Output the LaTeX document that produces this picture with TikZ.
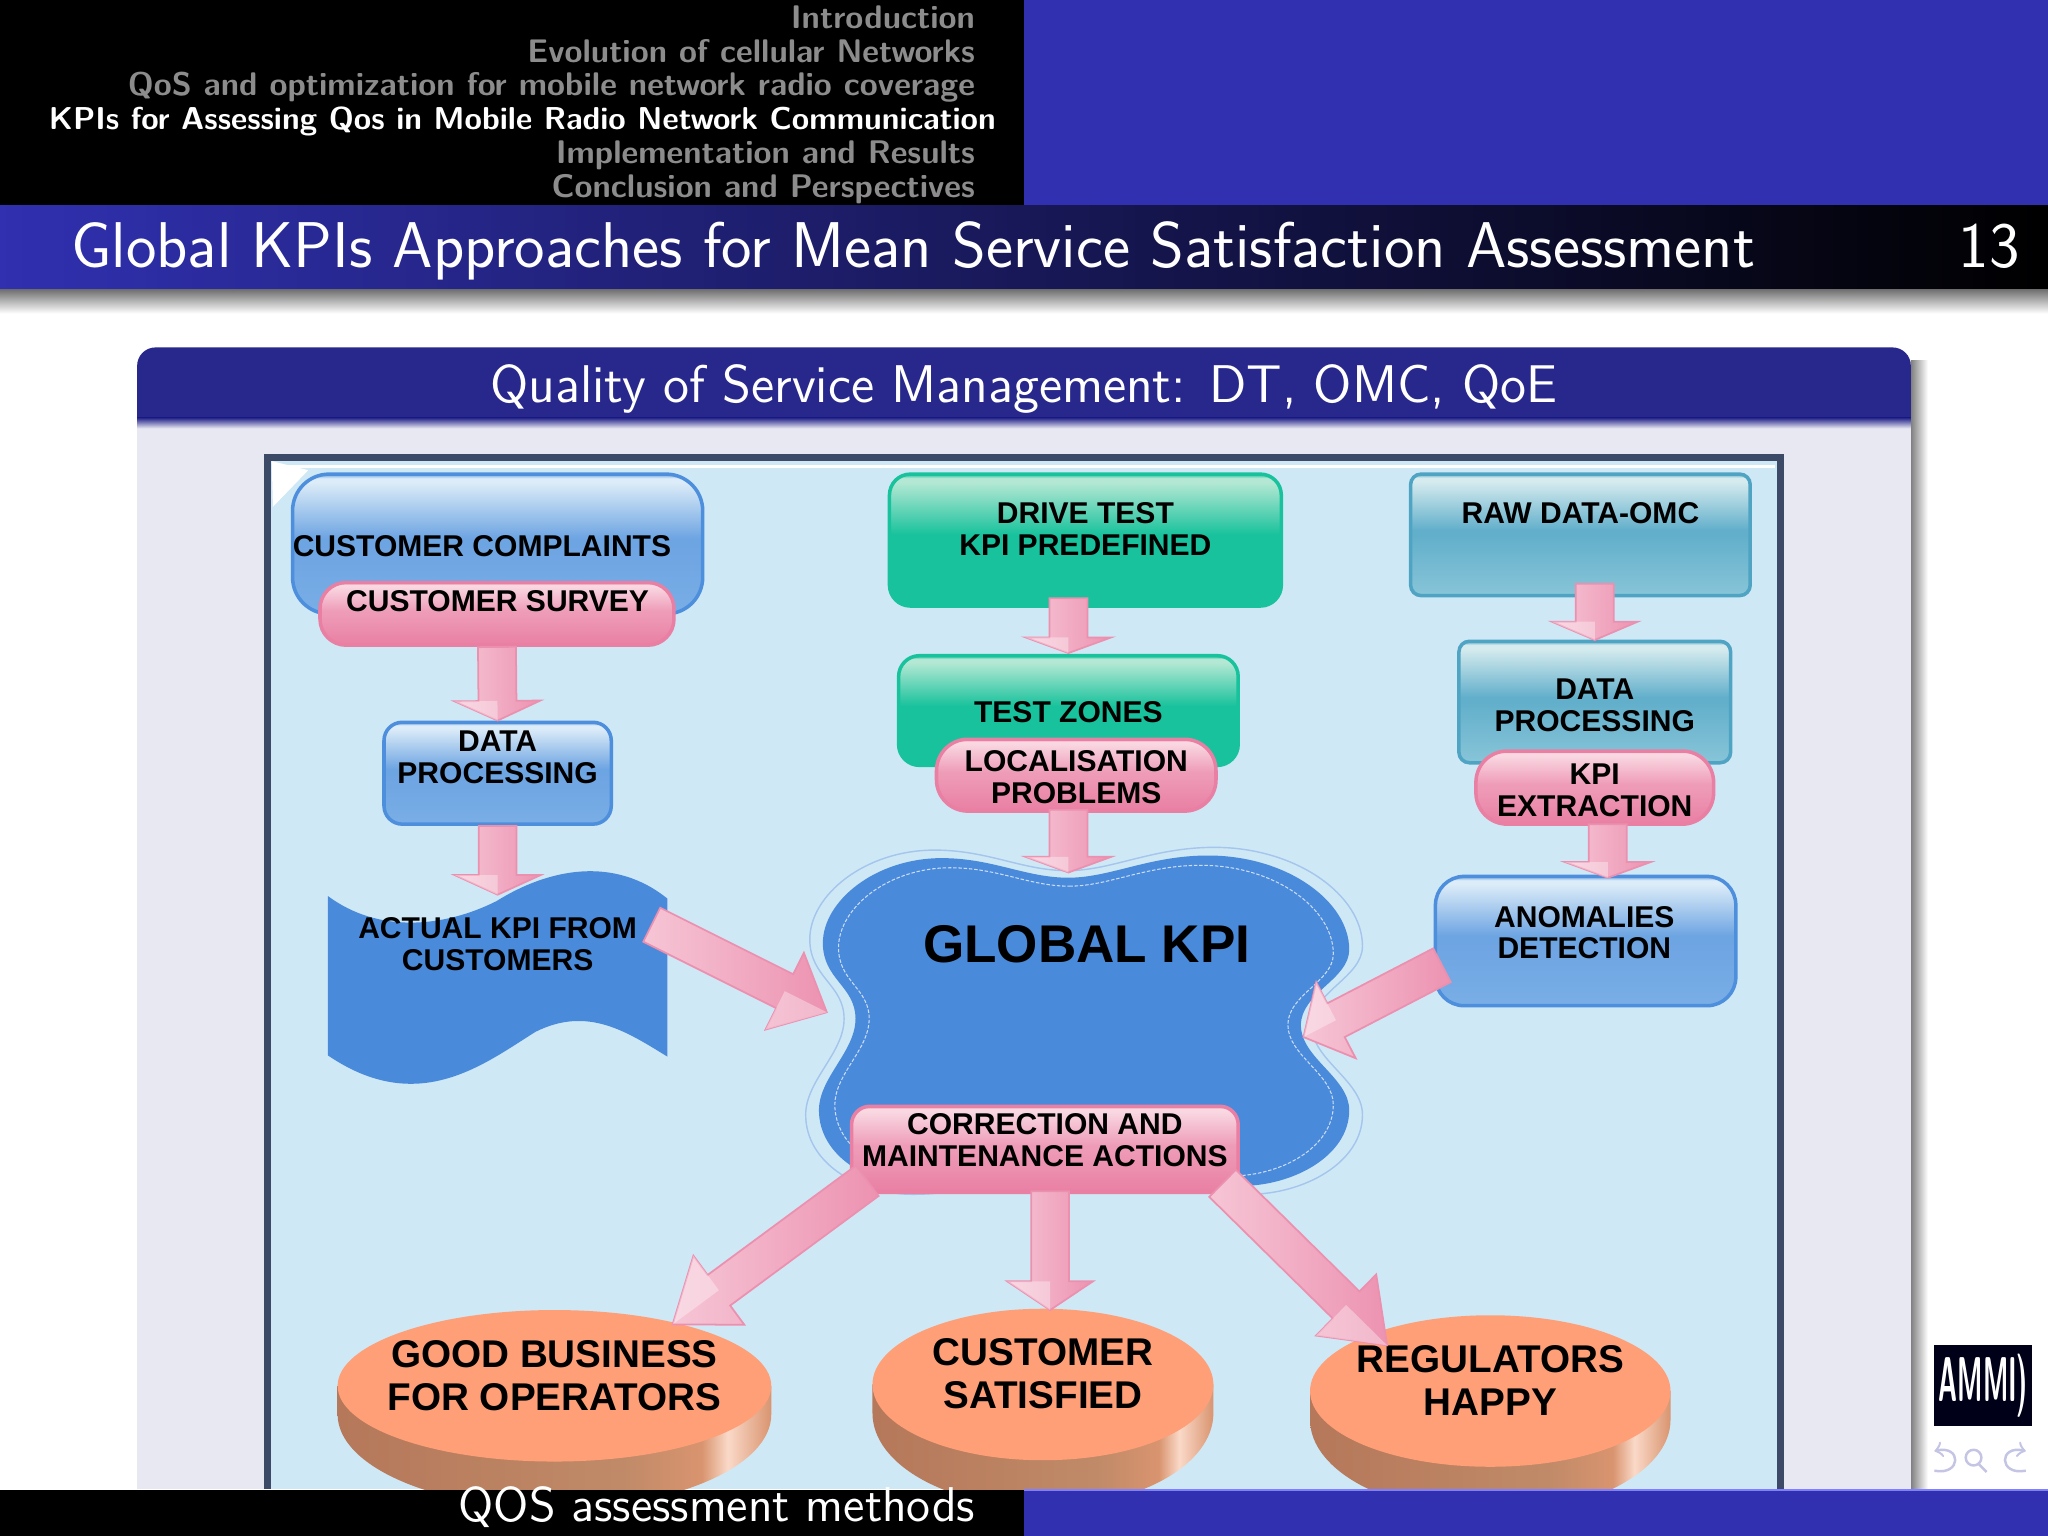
\documentclass[tikz,border=0pt]{standalone}
\usepackage{fontspec}
\usepackage{graphicx}
\newfontfamily\diagfont{Liberation Sans}
\usetikzlibrary{shapes.geometric, calc, positioning}

\definecolor{barblue}{HTML}{3030B0}
\definecolor{blocknavy}{HTML}{28288C}
\definecolor{bodygrey}{HTML}{E8E8F3}
\definecolor{framedark}{HTML}{3C4A68}
\definecolor{skyfill}{HTML}{CFE8F5}
\definecolor{cloudblue}{HTML}{4A8ADB}
\definecolor{discface}{HTML}{FF9F78}
\definecolor{discA}{HTML}{B5785A}
\definecolor{discB}{HTML}{C08A68}
\definecolor{discC}{HTML}{FAD9C8}
\definecolor{discD}{HTML}{D9946F}
\definecolor{navgrey}{HTML}{C4C4E4}

% glossy fills: name, top, middle, bottom
\newcommand{\glossy}[4]{%
  \pgfdeclareverticalshading{#1}{100bp}{color(0bp)=(#4); color(25bp)=(#4);
    color(50bp)=(#3); color(52bp)=(#3); color(72bp)=(#2); color(73.5bp)=(#2); color(75bp)=(#3); color(100bp)=(#3)}}
\definecolor{blueA}{HTML}{DCECF8}\definecolor{blueB}{HTML}{6DA4E2}\definecolor{blueC}{HTML}{79AEE6}
\definecolor{greenA}{HTML}{B4E8D4}\definecolor{greenB}{HTML}{18C29C}\definecolor{greenC}{HTML}{18C29C}
\definecolor{tealA}{HTML}{D5EBEE}\definecolor{tealB}{HTML}{62AFCB}\definecolor{tealC}{HTML}{88C5D8}
\definecolor{pinkA}{HTML}{F9D8E2}\definecolor{pinkB}{HTML}{EE9BB7}\definecolor{pinkC}{HTML}{E97FA3}
\definecolor{blueline}{HTML}{4D8FDC}
\definecolor{tealline}{HTML}{4FA3C3}
\glossy{glossblue}{blueA}{blueB}{blueC}
\glossy{glossgreen}{greenA}{greenB}{greenC}
\glossy{glossteal}{tealA}{tealB}{tealC}
\glossy{glosspink}{pinkA}{pinkB}{pinkC}
\pgfdeclarehorizontalshading{discshade}{100bp}{color(0bp)=(discA);
  color(25bp)=(discA); color(58bp)=(discB); color(67bp)=(discD);
  color(70bp)=(discC); color(75bp)=(discD); color(100bp)=(discD)}

\def\pxu{0.0130612cm}
\def\shaftw{5.4pt}
\def\headw{12.2pt}

\tikzset{
  size/.style 2 args={minimum width=#1*\pxu, minimum height=#2*\pxu, inner sep=0pt},
  bluebox/.style={shade, shading=glossblue, draw=blueline, line width=1pt},
  greenbox/.style={shade, shading=glossgreen, draw=greenB, line width=1pt},
  tealbox/.style={shade, shading=glossteal, draw=tealline, line width=1pt},
  pinkbox/.style={shade, shading=glosspink, draw=pinkC, line width=1pt},
  lbl/.style={font=\diagfont\bfseries\fontsize{8.55}{9}\selectfont, align=center, inner sep=0pt, text=black},
  biglbl/.style={font=\diagfont\bfseries\fontsize{11}{12.2}\selectfont, align=center, inner sep=0pt, text=black},
  seclbl/.style={font=\sffamily\bfseries\fontsize{9.3}{10}\selectfont, anchor=base east, inner sep=0pt, text=black!45},
  titlelbl/.style={font=\sffamily\fontsize{18.4}{19}\selectfont, text=white, inner sep=0pt},
  fatshade/.style={left color=pinkA!70!pinkB, right color=pinkB!70!pinkC, draw=pinkB!60!pinkC, line width=0.5pt},
}

% wide pink arrow: tail, tip, head length
\newcommand{\fatlink}[3]{%
  \coordinate (fatbase) at ($(#2)!#3*\pxu!(#1)$);
  \path[fatshade] ($(#1)!\shaftw!90:(#2)$) -- ($(fatbase)!\shaftw!-90:(#1)$)
    -- ($(fatbase)!\headw!-90:(#1)$) -- (#2) -- ($(fatbase)!\headw!90:(#1)$)
    -- ($(fatbase)!\shaftw!90:(#1)$) -- ($(#1)!\shaftw!-90:(#2)$) -- cycle;
  \fill[white, opacity=0.35] (#2) -- (fatbase) -- ($(fatbase)!\headw!90:(#1)$) -- cycle;
}

% disc with shaded side: name, x, y, half width, text
\newcommand{\disc}[5]{%
  \path[shade, shading=discshade] (#2-#4,#3) -- (#2-#4,#3+22) arc[start angle=180, end angle=360, x radius=#4, y radius=-72]
    -- (#2+#4,#3) -- cycle;
  \node[ellipse, fill=discface, minimum width=2*#4*\pxu, minimum height=116*\pxu, inner sep=0pt] (#1) at (#2,#3) {};
  \node[biglbl] (#1txt) at (#2,#3-8) {#5};
}

\newcommand{\cloudpath}{(818,672) .. controls (850,672) and (880,655) .. (925,655)
  .. controls (985,655) and (1033,690) .. (1033,727) .. controls (1033,750) and (996,760) .. (996,785)
  .. controls (996,810) and (1033,825) .. (1033,850) .. controls (1033,885) and (990,908) .. (950,908)
  .. controls (900,908) and (870,885) .. (830,885) .. controls (790,885) and (760,908) .. (705,908)
  .. controls (665,908) and (627,885) .. (627,850) .. controls (627,825) and (655,805) .. (655,780)
  .. controls (655,755) and (630,750) .. (630,722) .. controls (630,690) and (670,657) .. (721,657)
  .. controls (760,657) and (785,672) .. (818,672) -- cycle}

\begin{document}
\begin{tikzpicture}[x=\pxu, y=-\pxu]
    \useasboundingbox (0,0) rectangle (1568,1176);
    \fill[white] (0,0) rectangle (1568,1176);

    % header bars
    \fill[black] (0,0) rectangle (784,157);
    \fill[barblue] (784,0) rectangle (1568,157);
    \shade[left color=barblue, right color=black] (0,157) rectangle (1568,222);
    \shade[top color=black!55, bottom color=white] (0,222) rectangle (1568,240);
    \foreach \secname/\secy in {Introduction/21.7, Evolution of cellular Networks/47.5,
        QoS and optimization for mobile network radio coverage/73.5,
        Implementation and Results/125.5, Conclusion and Perspectives/151.5}
      \node[seclbl] at (747,\secy) {\secname};
    \node[seclbl, text=white, font=\sffamily\bfseries\fontsize{9}{10}\selectfont] (seckpi) at (763,99.5)
      {KPIs for Assessing Qos in Mobile Radio Network Communication};
    \node[titlelbl, anchor=base west] (slidetitle) at (54,205)
      {Global KPIs Approaches for Mean Service Satisfaction Assessment};
    \node[titlelbl, anchor=base] (slidenum) at (1523,205) {13};

    % block
    \shade[left color=black!50, right color=white] (1463,276) rectangle (1476,1140);
    \fill[bodygrey] (105,322) rectangle (1463,1140);
    \fill[blocknavy] (105,322) [rounded corners=14*\pxu] -- (105,266) -- (1463,266) [sharp corners] -- (1463,322) -- cycle;
    \shade[top color=blocknavy, bottom color=bodygrey] (105,320) rectangle (1463,328);
    \node[font=\sffamily\fontsize{15.1}{16}\selectfont, text=white, inner sep=0pt, anchor=base] (blocktitle) at (784,308)
      {Quality of Service Management: DT, OMC, QoE};

    % frame of the figure
    \fill[skyfill] (205,350) rectangle (1363,1140);
    \draw[framedark, line width=2pt] (205,1140) -- (205,350) -- (1363,350) -- (1363,1140);
    \draw[white, line width=1pt] (209,357) -- (1359,357);
    \fill[white] (208,353) -- (236,360) -- (209,388) -- cycle;

    % global kpi cloud
    \fill[cloudblue] \cloudpath;
    \begin{scope}[shift={(830,780)}, scale=1.05, shift={(-830,-780)}]
      \draw[cloudblue!50!white, line width=0.4pt] \cloudpath;
    \end{scope}
    \begin{scope}[shift={(830,780)}, scale=0.94, shift={(-830,-780)}]
      \draw[white!70!cloudblue, line width=0.3pt, dash pattern=on 1pt off 0.5pt] \cloudpath;
    \end{scope}
    \node[lbl, font=\diagfont\bfseries\fontsize{15.1}{16}\selectfont] (globalkpi) at (832,723) {GLOBAL KPI};

    % left column
    \node[bluebox, size={314}{107}, rounded corners=28*\pxu] (complaints) at (381,416.5) {};
    \node[lbl] (complaintstxt) at (369,418) {CUSTOMER COMPLAINTS};
    \node[pinkbox, size={271}{48}, rounded corners=20*\pxu] (survey) at (380.5,470) {};
    \node[lbl] (surveytxt) at (381,460) {CUSTOMER SURVEY};
    \node[bluebox, size={174}{78}, rounded corners=14*\pxu] (dataleft) at (381,592) {};
    \node[lbl] (dataleftxt) at (381,580) {DATA\\PROCESSING};
    \fill[cloudblue] (251,686) .. controls (290,715) and (340,710) .. (380,690)
      .. controls (420,665) and (470,655) .. (511,688) -- (511,809)
      .. controls (480,790) and (450,770) .. (410,790) .. controls (370,815) and (320,855) .. (251,808) -- cycle;
    \coordinate (sheetin) at (381,685);
    \node[lbl] (sheettxt) at (381,723) {ACTUAL KPI FROM\\CUSTOMERS};

    % middle column
    \node[greenbox, size={300}{101}, rounded corners=16*\pxu] (drive) at (831,413.5) {};
    \node[lbl] (drivetxt) at (831,405) {DRIVE TEST\\KPI PREDEFINED};
    \node[greenbox, size={260}{84}, rounded corners=16*\pxu] (zones) at (818,544) {};
    \node[lbl] (zonestxt) at (818,545) {TEST ZONES};
    \node[pinkbox, size={214}{55}, rounded corners=24*\pxu] (local) at (824,593.5) {};
    \node[lbl] (localtxt) at (824,595) {LOCALISATION\\PROBLEMS};

    % right column
    \node[tealbox, size={260}{93}, rounded corners=8*\pxu] (raw) at (1210,409.5) {};
    \node[lbl] (rawtxt) at (1210,393) {RAW DATA-OMC};
    \node[tealbox, size={208}{93}, rounded corners=8*\pxu] (dataright) at (1221,537.5) {};
    \node[lbl] (datarighttxt) at (1221,540) {DATA\\PROCESSING};
    \node[pinkbox, size={182}{56}, rounded corners=24*\pxu] (kpi) at (1221,603) {};
    \node[lbl] (kpitxt) at (1221,605) {KPI\\EXTRACTION};
    \node[bluebox, size={230}{99}, rounded corners=22*\pxu] (anomalies) at (1214,720.5) {};
    \node[lbl] (anomaliestxt) at (1213,714) {ANOMALIES\\DETECTION};

    % outcomes
    \disc{good}{424.5}{1061}{166}{GOOD BUSINESS\\FOR OPERATORS}
    \disc{satisfied}{798.5}{1060}{130.5}{CUSTOMER\\SATISFIED}
    \disc{regulators}{1141}{1065}{138}{REGULATORS\\HAPPY}

    % arrows
    \coordinate (drivetail) at (818,458);
    \coordinate (zoneshead) at (818,500);
    \coordinate (localtail) at (818,620);
    \coordinate (cloudtop) at (818,668);
    \coordinate (rawtail) at (1221,447);
    \coordinate (datarighthead) at (1221,490);
    \coordinate (kpitail) at (1231,631);
    \coordinate (anomalieshead) at (1231,672);
    \coordinate (sheettail) at (499,708);
    \coordinate (cloudleft) at (633,775);
    \coordinate (anomaliestail) at (1104,739);
    \coordinate (cloudright) at (998,794);
    \coordinate (corrleft) at (664,904);
    \coordinate (goodhead) at (515,1014);
    \coordinate (corrmid) at (804,912);
    \coordinate (satisfiedhead) at (804,1003);
    \coordinate (corrright) at (936,906);
    \coordinate (regulatorshead) at (1062,1030);

    \fatlink{survey.south}{dataleft.north}{15}
    \fatlink{dataleft.south}{sheetin}{15}
    \fatlink{drivetail}{zoneshead}{12}
    \fatlink{localtail}{cloudtop}{12}
    \fatlink{rawtail}{datarighthead}{14}
    \fatlink{kpitail}{anomalieshead}{12}
    \fatlink{sheettail}{cloudleft}{36}
    \fatlink{anomaliestail}{cloudright}{28}

    % correction box over the cloud
    \node[pinkbox, size={296}{66}, rounded corners=14*\pxu] (correction) at (800,880) {};
    \node[lbl] (correctiontxt) at (800,873) {CORRECTION AND\\MAINTENANCE ACTIONS};
    \fatlink{corrleft}{goodhead}{44}
    \fatlink{corrmid}{satisfiedhead}{22}
    \fatlink{corrright}{regulatorshead}{44}

    % logo and navigation
    \node[fill=black!90!blue, minimum width=75*\pxu, minimum height=62*\pxu, inner sep=0pt, text=white,
      font=\sffamily\bfseries\fontsize{9}{10}\selectfont] (logo) at (1518.5,1061) {\scalebox{0.82}[2]{AMMI)}};
    \draw[navgrey, line width=0.7pt, <-] (1481,1111) .. controls (1502,1106) and (1502,1130) .. (1481,1126);
    \draw[navgrey, line width=0.7pt] (1511,1116) circle[radius=6] (1515,1121) -- (1521,1127);
    \draw[navgrey, line width=0.7pt, <-] (1551,1111) .. controls (1530,1106) and (1530,1130) .. (1551,1126);

    % footer
    \fill[black] (0,1141) rectangle (784,1176);
    \fill[barblue] (784,1141) rectangle (1568,1176);
    \draw[blue!50!white, line width=0.5pt] (784,1141) -- (1568,1141);
    \node[font=\sffamily\fontsize{13.9}{14}\selectfont, text=white, anchor=base east, inner sep=0pt] (footer) at (747,1165)
      {QOS assessment methods};
\end{tikzpicture}
\end{document}
